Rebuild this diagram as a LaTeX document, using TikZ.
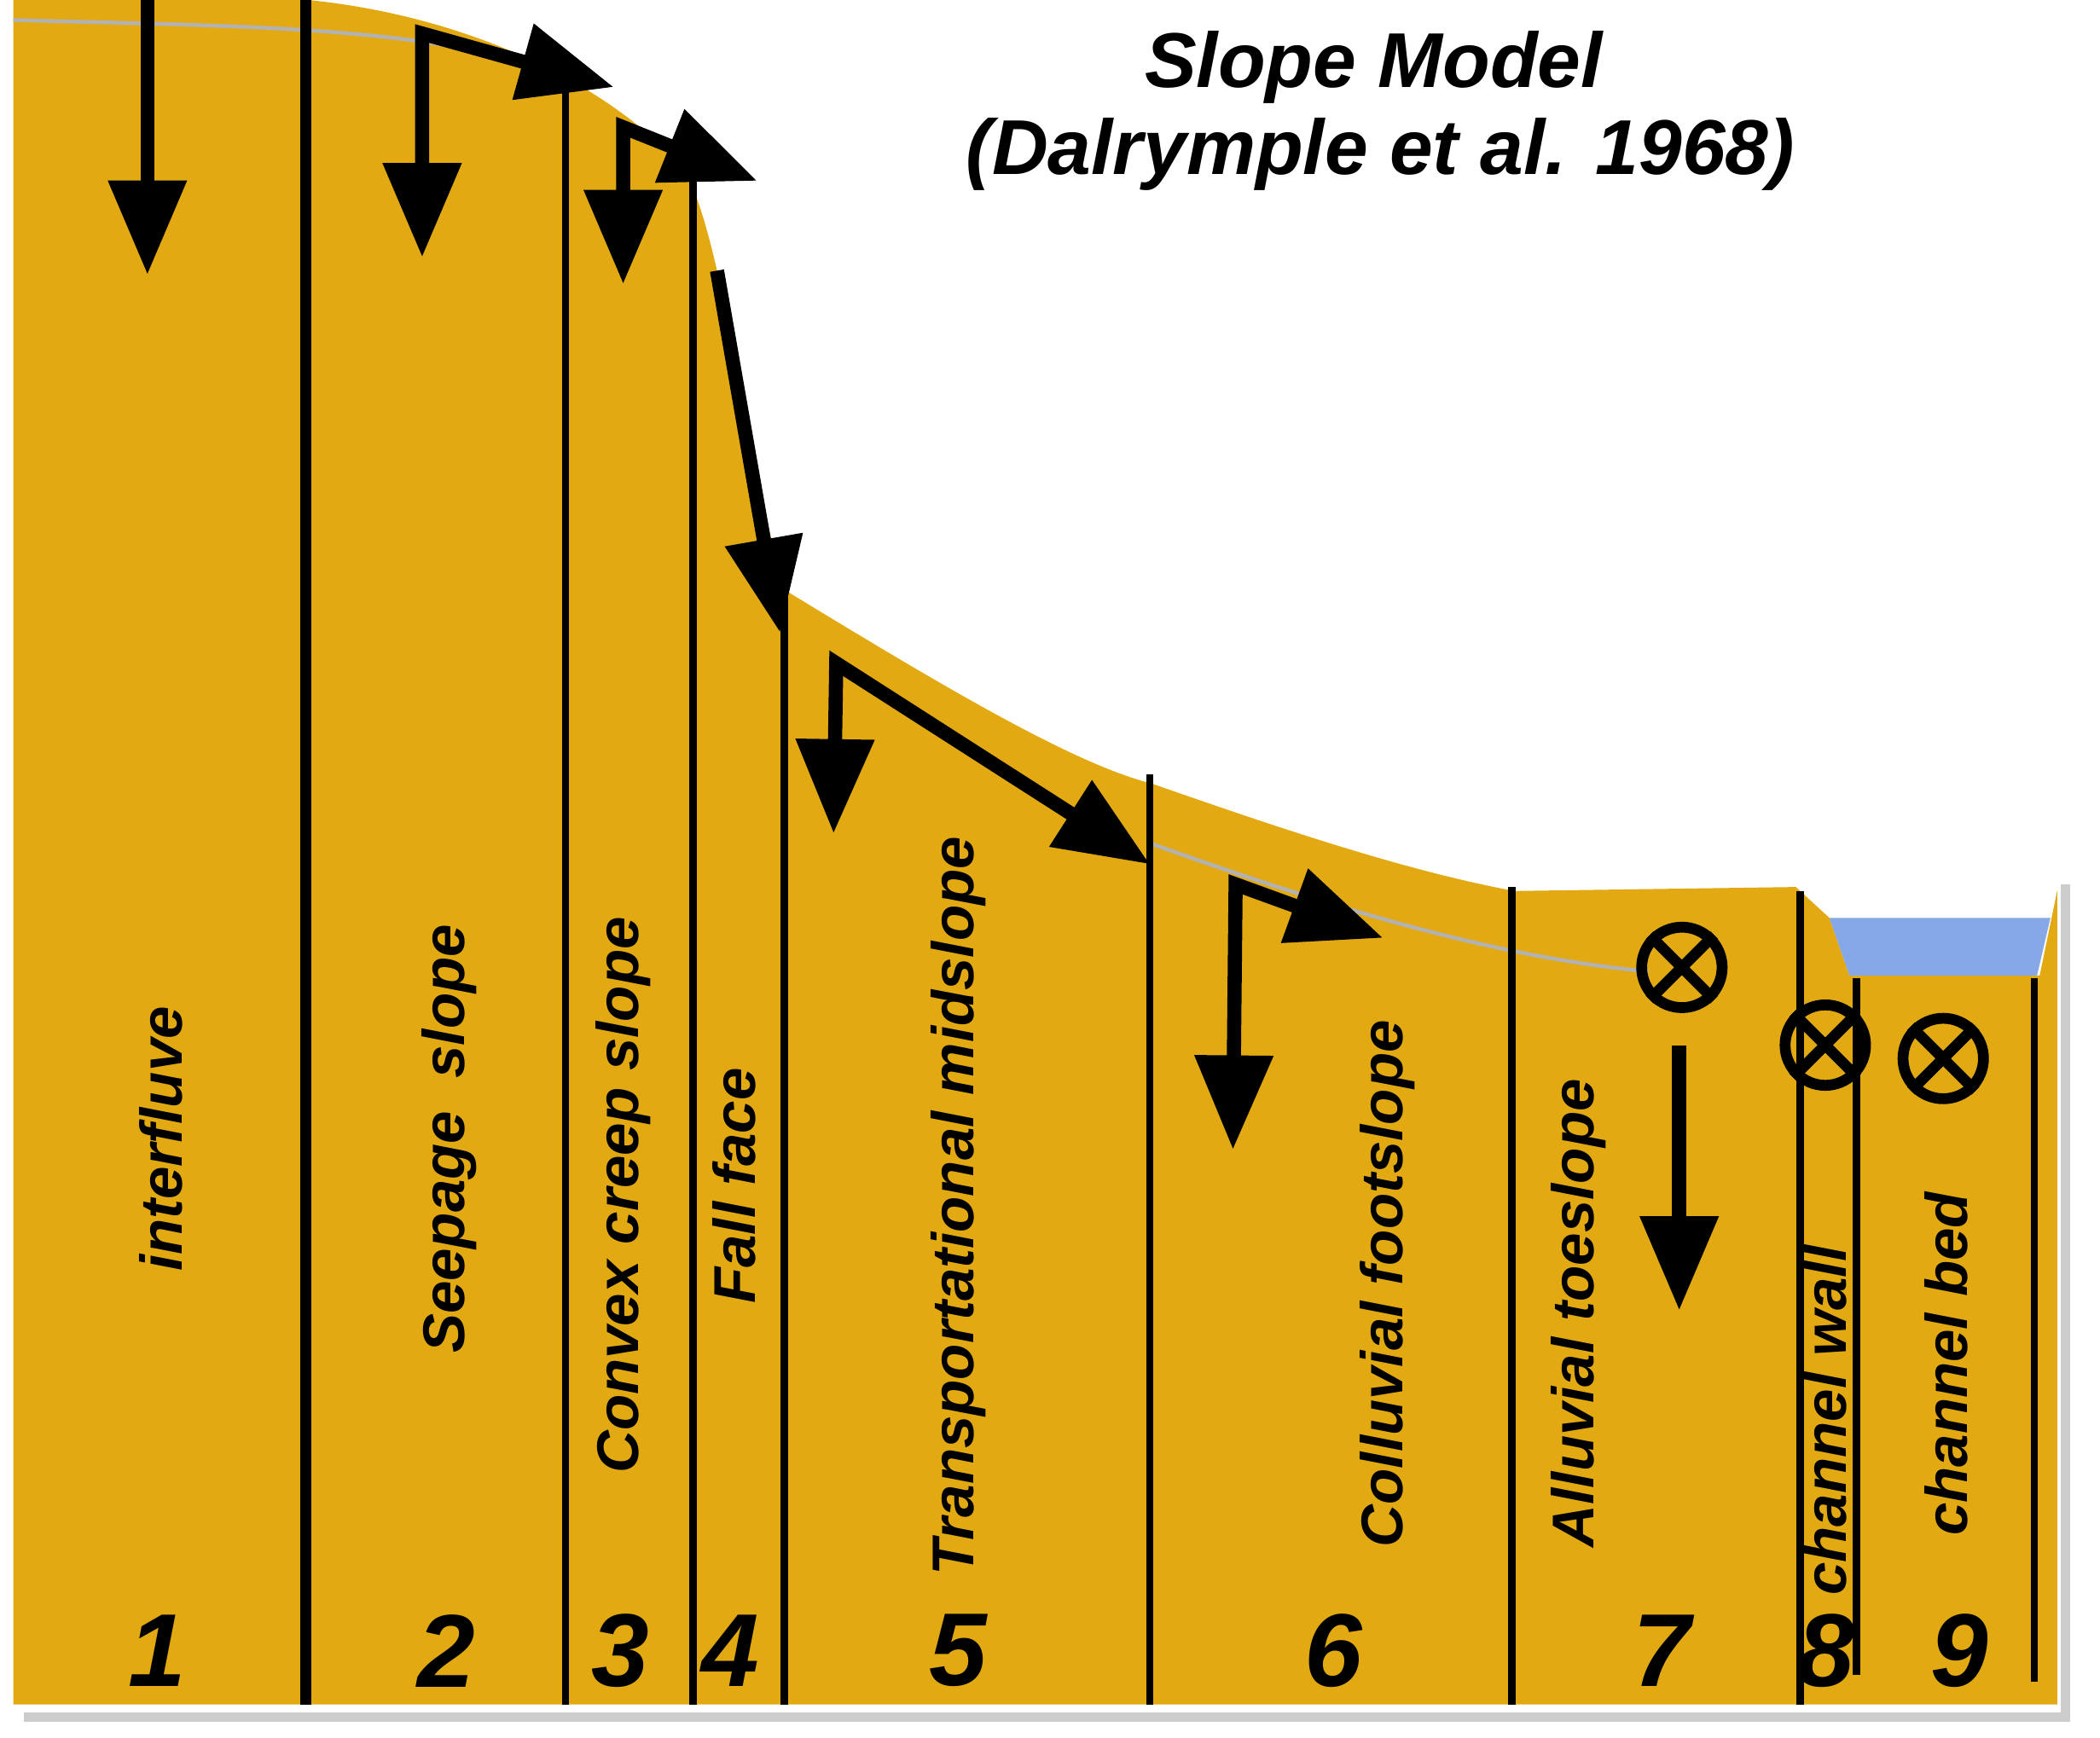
\documentclass[tikz,border=0pt]{standalone}
\usepackage{fontspec}
\setmainfont{Liberation Sans}
\usetikzlibrary{arrows.meta}
\definecolor{ochre}{HTML}{E2A912}
\definecolor{water}{HTML}{86A8E6}
\begin{document}
\begin{tikzpicture}[x=0.01cm,y=-0.01cm,
  lab/.style={font=\bfseries\itshape\fontsize{12.5}{12.5}\selectfont,rotate=90},
  num/.style={font=\bfseries\itshape\fontsize{22}{22}\selectfont},
  arr/.style={line width=3pt,-{Triangle[length=20pt,width=16pt]}},
  darr/.style={line width=3pt,{Triangle[length=20pt,width=16pt]}-{Triangle[length=20pt,width=16pt]}},
  zone/.style={line width=1.6pt}]
\useasboundingbox (0,0) rectangle (1567,1297);
\fill[gray!40] (18,1278) rectangle (1545,1285);
\fill[gray!40] (1538,660) rectangle (1545,1285);
\fill[ochre] (10,0) -- (230,0) .. controls (330,10) and (440,50) .. (510,125)
  .. controls (540,180) and (555,330) .. (585,440)
  .. controls (700,510) and (800,570) .. (860,585)
  .. controls (960,620) and (1050,650) .. (1130,665)
  -- (1340,662) -- (1365,685) -- (1380,728) -- (1522,728) -- (1535,665)
  -- (1535,1272) -- (10,1272) -- cycle;
\fill[water] (1365,685) -- (1530,685) -- (1520,728) -- (1380,728) -- cycle;
\draw[gray!60,line width=0.8pt] (10,15) .. controls (200,20) and (330,20) .. (430,60);
\draw[gray!60,line width=0.8pt] (860,630) .. controls (1000,680) and (1120,715) .. (1230,725);
\draw[zone,line width=2.4pt] (228,0) -- (228,1272);
\draw[zone] (422,52) -- (422,1272);
\draw[zone] (517,128) -- (517,1272);
\draw[zone] (585,440) -- (585,1272);
\draw[zone] (858,578) -- (858,1272);
\draw[zone] (1128,662) -- (1128,1272);
\draw[zone] (1343,665) -- (1343,1272);
\draw[zone] (1385,730) -- (1385,1250);
\draw[zone] (1518,730) -- (1518,1255);
\node[font=\bfseries\itshape\fontsize{16.5}{16.5}\selectfont] (t1) at (1025,50) {Slope Model};
\node[font=\bfseries\itshape\fontsize{16.5}{16.5}\selectfont] (t2) at (1030,115) {(Dalrymple et al. 1968)};
\node[lab] (l1) at (120,850) {interfluve};
\node[lab] (l2) at (335,850) {Seepage\ \ slope};
\node[lab] (l3) at (465,892) {Convex creep slope};
\node[lab] (l4) at (548,885) {Fall face};
\node[lab] (l5) at (715,900) {Transportational midslope};
\node[lab] (l6) at (1035,958) {Colluvial footslope};
\node[lab] (l7) at (1178,980) {Alluvial toeslope};
\node[lab] (l8) at (1362,1060) {channel wall};
\node[lab] (l9) at (1452,1018) {channel bed};
\foreach \x/\n in {117/1,333/2,463/3,545/4,715/5,995/6,1240/7,1362/8,1462/9}
  \node[num] (n\n) at (\x,1232) {\n};
\coordinate (a1s) at (110,0); \coordinate (a1e) at (110,205);
\draw[arr] (a1s) -- (a1e);
\coordinate (a2a) at (315,192); \coordinate (a2b) at (315,25); \coordinate (a2c) at (458,65);
\draw[darr] (a2a) -- (a2b) -- (a2c);
\coordinate (a3a) at (465,212); \coordinate (a3b) at (465,95); \coordinate (a3c) at (565,135);
\draw[darr] (a3a) -- (a3b) -- (a3c);
\coordinate (a4a) at (535,202); \coordinate (a4b) at (582,472);
\draw[arr] (a4a) -- (a4b);
\coordinate (a5a) at (622,622); \coordinate (a5b) at (624,495); \coordinate (a5c) at (858,645);
\draw[darr] (a5a) -- (a5b) -- (a5c);
\coordinate (a6a) at (920,858); \coordinate (a6b) at (922,660); \coordinate (a6c) at (1032,700);
\draw[darr] (a6a) -- (a6b) -- (a6c);
\coordinate (a7a) at (1253,780); \coordinate (a7b) at (1253,978);
\draw[arr] (a7a) -- (a7b);
\foreach \x/\y/\k in {1255/722/1,1362/780/2,1450/790/3}{
  \node[circle,draw,line width=2.3pt,minimum size=0.6cm,inner sep=0pt] (c\k) at (\x,\y) {};
  \draw[line width=2.3pt] (c\k.north west) -- (c\k.south east) (c\k.north east) -- (c\k.south west);
}
\end{tikzpicture}
\end{document}
